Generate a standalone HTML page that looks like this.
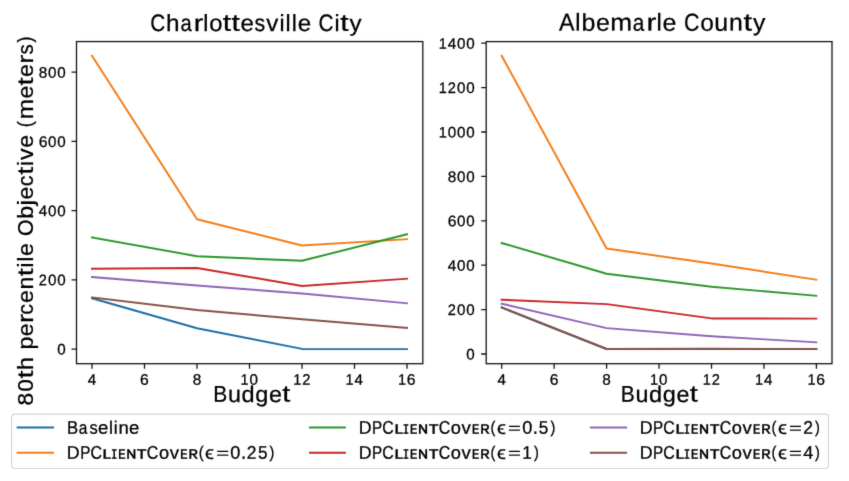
<!DOCTYPE html>
<html><head><meta charset="utf-8"><style>html,body{margin:0;padding:0;background:#fff;overflow:hidden}svg{display:block}</style></head>
<body><svg width="849" height="481" viewBox="0 0 849 481">
<defs><filter id="bl" x="0" y="0" width="849" height="481" filterUnits="userSpaceOnUse" color-interpolation-filters="sRGB"><feConvolveMatrix order="3" kernelMatrix="0.01134 0.08382 0.01134 0.08382 0.61935 0.08382 0.01134 0.08382 0.01134" preserveAlpha="true" edgeMode="duplicate"/></filter></defs>
<rect width="849" height="481" fill="#fff"/>
<g filter="url(#bl)">
<rect width="849" height="481" fill="#fff"/>
<polyline points="92,298.3 197,328.3 302,348.9 407,349.1" fill="none" stroke="#1d6ea8" stroke-width="1.95" stroke-linecap="square" stroke-linejoin="round"/>
<polyline points="92,55.9 197,219.2 302,245.5 407,239.2" fill="none" stroke="#f47d18" stroke-width="1.95" stroke-linecap="square" stroke-linejoin="round"/>
<polyline points="92,237.5 197,256.2 302,260.8 407,234.2" fill="none" stroke="#2a982a" stroke-width="1.95" stroke-linecap="square" stroke-linejoin="round"/>
<polyline points="92,268.7 197,268 302,286 407,278.7" fill="none" stroke="#c8262a" stroke-width="1.95" stroke-linecap="square" stroke-linejoin="round"/>
<polyline points="92,277 197,285.5 302,293.5 407,303.3" fill="none" stroke="#8f63b8" stroke-width="1.95" stroke-linecap="square" stroke-linejoin="round"/>
<polyline points="92,297.5 197,310 302,319.2 407,328" fill="none" stroke="#86524a" stroke-width="1.95" stroke-linecap="square" stroke-linejoin="round"/>
<polyline points="501.7,307.5 606.6,349 711.5,349 816.3,349" fill="none" stroke="#1d6ea8" stroke-width="1.95" stroke-linecap="square" stroke-linejoin="round"/>
<polyline points="501.7,55.8 606.6,248.5 711.5,263.5 816.3,279.75" fill="none" stroke="#f47d18" stroke-width="1.95" stroke-linecap="square" stroke-linejoin="round"/>
<polyline points="501.7,243 606.6,273.75 711.5,286.8 816.3,295.8" fill="none" stroke="#2a982a" stroke-width="1.95" stroke-linecap="square" stroke-linejoin="round"/>
<polyline points="501.7,299.7 606.6,304.1 711.5,318.4 816.3,318.6" fill="none" stroke="#c8262a" stroke-width="1.95" stroke-linecap="square" stroke-linejoin="round"/>
<polyline points="501.7,303.7 606.6,328.1 711.5,336.3 816.3,342.3" fill="none" stroke="#8f63b8" stroke-width="1.95" stroke-linecap="square" stroke-linejoin="round"/>
<polyline points="501.7,307.5 606.6,349 711.5,348.8 816.3,349" fill="none" stroke="#86524a" stroke-width="1.95" stroke-linecap="square" stroke-linejoin="round"/>
<rect x="76.5" y="41.55" width="346.3" height="322.15" fill="none" stroke="#151515" stroke-width="1.3"/>
<rect x="486.2" y="41.6" width="345.8" height="322.1" fill="none" stroke="#151515" stroke-width="1.3"/>
<path d="M92 363.7v5 M144.5 363.7v5 M197 363.7v5 M249.5 363.7v5 M302 363.7v5 M354.5 363.7v5 M407 363.7v5 M501.7 363.7v5 M554.15 363.7v5 M606.6 363.7v5 M659.05 363.7v5 M711.5 363.7v5 M763.95 363.7v5 M816.4 363.7v5 M76.5 349.07h-5 M76.5 279.85h-5 M76.5 210.63h-5 M76.5 141.41h-5 M76.5 72.19h-5 M486.2 354h-5 M486.2 309.6h-5 M486.2 265.2h-5 M486.2 220.8h-5 M486.2 176.4h-5 M486.2 132h-5 M486.2 87.6h-5 M486.2 43.2h-5" stroke="#151515" stroke-width="1.3" fill="none"/>
<rect x="11.6" y="414.1" width="816.9" height="54.4" rx="3.5" ry="3.5" fill="#fff" stroke="#d4d4d4" stroke-width="1.1"/>
<path d="M17.6 427.4H53" stroke="#1d6ea8" stroke-width="1.95" stroke-linecap="square"/>
<path d="M17.6 452.7H53" stroke="#f47d18" stroke-width="1.95" stroke-linecap="square"/>
<path d="M310 427.4H344.9" stroke="#2a982a" stroke-width="1.95" stroke-linecap="square"/>
<path d="M310 452.7H344.9" stroke="#c8262a" stroke-width="1.95" stroke-linecap="square"/>
<path d="M591 427.4H626.1" stroke="#8f63b8" stroke-width="1.95" stroke-linecap="square"/>
<path d="M591 452.7H626.1" stroke="#86524a" stroke-width="1.95" stroke-linecap="square"/>
<g font-family='"Liberation Sans", sans-serif' fill="#000" stroke="#000" stroke-width="0.25">
<text transform="matrix(1.054 0.002 -0.002 1.06 87.827 384.7)" font-size="14.4">4</text>
<text transform="matrix(1.091 0.002 -0.002 1.068 140.078 384.754)" font-size="14.4">6</text>
<text transform="matrix(1.066 0.002 -0.002 1.068 192.733 384.754)" font-size="14.4">8</text>
<text transform="matrix(1.007 0.002 -0.002 1.06 240.503 384.7)" font-size="14.4">1</text>
<text transform="matrix(1.054 0.002 -0.002 1.068 249.543 384.754)" font-size="14.4">0</text>
<text transform="matrix(1.007 0.002 -0.002 1.06 293.246 384.7)" font-size="14.4">1</text>
<text transform="matrix(1.016 0.002 -0.002 1.063 302.249 384.7)" font-size="14.4">2</text>
<text transform="matrix(1.007 0.002 -0.002 1.06 345.429 384.7)" font-size="14.4">1</text>
<text transform="matrix(1.054 0.002 -0.002 1.06 354.468 384.7)" font-size="14.4">4</text>
<text transform="matrix(1.007 0.002 -0.002 1.06 397.978 384.7)" font-size="14.4">1</text>
<text transform="matrix(1.091 0.002 -0.002 1.068 406.87 384.754)" font-size="14.4">6</text>
<text transform="matrix(1.054 0.002 -0.002 1.06 497.527 384.7)" font-size="14.4">4</text>
<text transform="matrix(1.091 0.002 -0.002 1.068 549.728 384.754)" font-size="14.4">6</text>
<text transform="matrix(1.066 0.002 -0.002 1.068 602.333 384.754)" font-size="14.4">8</text>
<text transform="matrix(1.007 0.002 -0.002 1.06 650.053 384.7)" font-size="14.4">1</text>
<text transform="matrix(1.054 0.002 -0.002 1.068 659.093 384.754)" font-size="14.4">0</text>
<text transform="matrix(1.007 0.002 -0.002 1.06 702.746 384.7)" font-size="14.4">1</text>
<text transform="matrix(1.016 0.002 -0.002 1.063 711.749 384.7)" font-size="14.4">2</text>
<text transform="matrix(1.007 0.002 -0.002 1.06 754.879 384.7)" font-size="14.4">1</text>
<text transform="matrix(1.054 0.002 -0.002 1.06 763.918 384.7)" font-size="14.4">4</text>
<text transform="matrix(1.007 0.002 -0.002 1.06 807.378 384.7)" font-size="14.4">1</text>
<text transform="matrix(1.091 0.002 -0.002 1.068 816.27 384.754)" font-size="14.4">6</text>
<text transform="matrix(1.054 0.002 -0.002 1.068 57.151 354.574)" font-size="14.4">0</text>
<text transform="matrix(1.016 0.002 -0.002 1.063 38.79 285.3)" font-size="14.4">2</text>
<text transform="matrix(1.054 0.002 -0.002 1.068 47.989 285.354)" font-size="14.4">0</text>
<text transform="matrix(1.054 0.002 -0.002 1.068 57.151 285.354)" font-size="14.4">0</text>
<text transform="matrix(1.054 0.002 -0.002 1.06 38.826 216.08)" font-size="14.4">4</text>
<text transform="matrix(1.054 0.002 -0.002 1.068 47.989 216.134)" font-size="14.4">0</text>
<text transform="matrix(1.054 0.002 -0.002 1.068 57.151 216.134)" font-size="14.4">0</text>
<text transform="matrix(1.091 0.002 -0.002 1.068 38.679 146.914)" font-size="14.4">6</text>
<text transform="matrix(1.054 0.002 -0.002 1.068 47.989 146.914)" font-size="14.4">0</text>
<text transform="matrix(1.054 0.002 -0.002 1.068 57.151 146.914)" font-size="14.4">0</text>
<text transform="matrix(1.066 0.002 -0.002 1.068 38.782 77.694)" font-size="14.4">8</text>
<text transform="matrix(1.054 0.002 -0.002 1.068 47.989 77.694)" font-size="14.4">0</text>
<text transform="matrix(1.054 0.002 -0.002 1.068 57.151 77.694)" font-size="14.4">0</text>
<text transform="matrix(1.054 0.002 -0.002 1.068 466.151 359.504)" font-size="14.4">0</text>
<text transform="matrix(1.016 0.002 -0.002 1.063 447.79 315.05)" font-size="14.4">2</text>
<text transform="matrix(1.054 0.002 -0.002 1.068 456.989 315.104)" font-size="14.4">0</text>
<text transform="matrix(1.054 0.002 -0.002 1.068 466.151 315.104)" font-size="14.4">0</text>
<text transform="matrix(1.054 0.002 -0.002 1.06 447.826 270.65)" font-size="14.4">4</text>
<text transform="matrix(1.054 0.002 -0.002 1.068 456.989 270.704)" font-size="14.4">0</text>
<text transform="matrix(1.054 0.002 -0.002 1.068 466.151 270.704)" font-size="14.4">0</text>
<text transform="matrix(1.091 0.002 -0.002 1.068 447.679 226.304)" font-size="14.4">6</text>
<text transform="matrix(1.054 0.002 -0.002 1.068 456.989 226.304)" font-size="14.4">0</text>
<text transform="matrix(1.054 0.002 -0.002 1.068 466.151 226.304)" font-size="14.4">0</text>
<text transform="matrix(1.066 0.002 -0.002 1.068 447.782 181.904)" font-size="14.4">8</text>
<text transform="matrix(1.054 0.002 -0.002 1.068 456.989 181.904)" font-size="14.4">0</text>
<text transform="matrix(1.054 0.002 -0.002 1.068 466.151 181.904)" font-size="14.4">0</text>
<text transform="matrix(1.007 0.002 -0.002 1.06 438.787 137.45)" font-size="14.4">1</text>
<text transform="matrix(1.054 0.002 -0.002 1.068 447.827 137.504)" font-size="14.4">0</text>
<text transform="matrix(1.054 0.002 -0.002 1.068 456.989 137.504)" font-size="14.4">0</text>
<text transform="matrix(1.054 0.002 -0.002 1.068 466.151 137.504)" font-size="14.4">0</text>
<text transform="matrix(1.007 0.002 -0.002 1.06 438.787 93.05)" font-size="14.4">1</text>
<text transform="matrix(1.016 0.002 -0.002 1.063 447.79 93.05)" font-size="14.4">2</text>
<text transform="matrix(1.054 0.002 -0.002 1.068 456.989 93.104)" font-size="14.4">0</text>
<text transform="matrix(1.054 0.002 -0.002 1.068 466.151 93.104)" font-size="14.4">0</text>
<text transform="matrix(1.007 0.002 -0.002 1.06 438.787 48.65)" font-size="14.4">1</text>
<text transform="matrix(1.054 0.002 -0.002 1.06 447.826 48.65)" font-size="14.4">4</text>
<text transform="matrix(1.054 0.002 -0.002 1.068 456.989 48.704)" font-size="14.4">0</text>
<text transform="matrix(1.054 0.002 -0.002 1.068 466.151 48.704)" font-size="14.4">0</text>
<text transform="matrix(0.928 0.002 -0.002 1.068 150.346 31.083)" font-size="22.35">C</text>
<text transform="matrix(1.086 0.002 -0.002 1.049 166.098 31)" font-size="22.35">h</text>
<text transform="matrix(0.899 0.002 -0.002 1.048 180.404 31.088)" font-size="22.35">a</text>
<text transform="matrix(1.281 0.002 -0.002 1.041 193.74 31)" font-size="22.35">r</text>
<text transform="matrix(1.022 0.002 -0.002 1.049 203.367 31)" font-size="22.35">l</text>
<text transform="matrix(1.063 0.002 -0.002 1.048 209.246 31.088)" font-size="22.35">o</text>
<text transform="matrix(1.337 0.002 -0.002 1.073 222.832 30.813)" font-size="22.35">t</text>
<text transform="matrix(1.337 0.002 -0.002 1.073 231.596 30.813)" font-size="22.35">t</text>
<text transform="matrix(1.08 0.002 -0.002 1.048 240.418 31.088)" font-size="22.35">e</text>
<text transform="matrix(0.959 0.002 -0.002 1.051 254.576 31.087)" font-size="22.35">s</text>
<text transform="matrix(1.079 0.002 -0.002 1.035 266.189 31)" font-size="22.35">v</text>
<text transform="matrix(1.022 0.002 -0.002 1.049 279.41 31)" font-size="22.35">i</text>
<text transform="matrix(1.022 0.002 -0.002 1.049 285.608 31)" font-size="22.35">l</text>
<text transform="matrix(1.022 0.002 -0.002 1.049 291.818 31)" font-size="22.35">l</text>
<text transform="matrix(1.08 0.002 -0.002 1.048 297.668 31.088)" font-size="22.35">e</text>
<text transform="matrix(0.928 0.002 -0.002 1.068 318.517 31.083)" font-size="22.35">C</text>
<text transform="matrix(1.022 0.002 -0.002 1.049 334.499 31)" font-size="22.35">i</text>
<text transform="matrix(1.337 0.002 -0.002 1.073 340.279 30.813)" font-size="22.35">t</text>
<text transform="matrix(1.074 0.002 -0.002 1.026 349.501 30.891)" font-size="22.35">y</text>
<text transform="matrix(1.007 0.002 -0.002 1.06 559.005 30.6)" font-size="23.05">A</text>
<text transform="matrix(1.022 0.002 -0.002 1.049 575.223 30.6)" font-size="23.05">l</text>
<text transform="matrix(1.088 0.002 -0.002 1.054 581.519 30.689)" font-size="23.05">b</text>
<text transform="matrix(1.08 0.002 -0.002 1.048 595.888 30.69)" font-size="23.05">e</text>
<text transform="matrix(1.139 0.002 -0.002 1.041 610.204 30.6)" font-size="23.05">m</text>
<text transform="matrix(0.899 0.002 -0.002 1.048 632.812 30.69)" font-size="23.05">a</text>
<text transform="matrix(1.281 0.002 -0.002 1.041 646.565 30.6)" font-size="23.05">r</text>
<text transform="matrix(1.022 0.002 -0.002 1.049 656.494 30.6)" font-size="23.05">l</text>
<text transform="matrix(1.08 0.002 -0.002 1.048 662.528 30.69)" font-size="23.05">e</text>
<text transform="matrix(0.928 0.002 -0.002 1.068 684.029 30.686)" font-size="23.05">C</text>
<text transform="matrix(1.063 0.002 -0.002 1.048 700.159 30.69)" font-size="23.05">o</text>
<text transform="matrix(1.078 0.002 -0.002 1.067 714.363 30.686)" font-size="23.05">u</text>
<text transform="matrix(1.078 0.002 -0.002 1.041 729.07 30.6)" font-size="23.05">n</text>
<text transform="matrix(1.337 0.002 -0.002 1.073 743.389 30.407)" font-size="23.05">t</text>
<text transform="matrix(1.074 0.002 -0.002 1.026 752.9 30.487)" font-size="23.05">y</text>
<text transform="matrix(0.972 0.002 -0.002 1.06 213.279 401.8)" font-size="21.6">B</text>
<text transform="matrix(1.078 0.002 -0.002 1.067 228.021 401.881)" font-size="21.6">u</text>
<text transform="matrix(1.087 0.002 -0.002 1.054 241.594 401.884)" font-size="21.6">d</text>
<text transform="matrix(1.087 0.002 -0.002 1.032 255.305 401.666)" font-size="21.6">g</text>
<text transform="matrix(1.08 0.002 -0.002 1.048 269.011 401.885)" font-size="21.6">e</text>
<text transform="matrix(1.337 0.002 -0.002 1.073 282.242 401.619)" font-size="21.6">t</text>
<text transform="matrix(0.972 0.002 -0.002 1.06 620.679 401.8)" font-size="21.6">B</text>
<text transform="matrix(1.078 0.002 -0.002 1.067 635.421 401.881)" font-size="21.6">u</text>
<text transform="matrix(1.087 0.002 -0.002 1.054 648.994 401.884)" font-size="21.6">d</text>
<text transform="matrix(1.087 0.002 -0.002 1.032 662.705 401.666)" font-size="21.6">g</text>
<text transform="matrix(1.08 0.002 -0.002 1.048 676.411 401.885)" font-size="21.6">e</text>
<text transform="matrix(1.337 0.002 -0.002 1.073 689.642 401.619)" font-size="21.6">t</text>
<text transform="matrix(0 -1.066 1.068 0 33.28 405.491)" font-size="21.4">8</text>
<text transform="matrix(0 -1.054 1.068 0 33.28 391.808)" font-size="21.4">0</text>
<text transform="matrix(0 -1.337 1.073 0 33.021 378.58)" font-size="21.4">t</text>
<text transform="matrix(0 -1.086 1.049 0 33.2 369.998)" font-size="21.4">h</text>
<text transform="matrix(0 -1.088 1.031 0 33.074 349.523)" font-size="21.4">p</text>
<text transform="matrix(0 -1.08 1.048 0 33.284 336.183)" font-size="21.4">e</text>
<text transform="matrix(0 -1.281 1.041 0 33.2 323.093)" font-size="21.4">r</text>
<text transform="matrix(0 -1.003 1.048 0 33.284 314.63)" font-size="21.4">c</text>
<text transform="matrix(0 -1.08 1.048 0 33.284 302.934)" font-size="21.4">e</text>
<text transform="matrix(0 -1.078 1.041 0 33.2 289.556)" font-size="21.4">n</text>
<text transform="matrix(0 -1.337 1.073 0 33.021 276.262)" font-size="21.4">t</text>
<text transform="matrix(0 -1.022 1.049 0 33.2 267.46)" font-size="21.4">i</text>
<text transform="matrix(0 -1.022 1.049 0 33.2 261.525)" font-size="21.4">l</text>
<text transform="matrix(0 -1.08 1.048 0 33.284 255.923)" font-size="21.4">e</text>
<text transform="matrix(0 -0.989 1.068 0 33.28 235.954)" font-size="21.4">O</text>
<text transform="matrix(0 -1.088 1.054 0 33.283 218.866)" font-size="21.4">b</text>
<text transform="matrix(0 -1.128 1.038 0 33.041 205.523)" font-size="21.4">j</text>
<text transform="matrix(0 -1.08 1.048 0 33.284 199.581)" font-size="21.4">e</text>
<text transform="matrix(0 -1.003 1.048 0 33.284 186.345)" font-size="21.4">c</text>
<text transform="matrix(0 -1.337 1.073 0 33.021 174.706)" font-size="21.4">t</text>
<text transform="matrix(0 -1.022 1.049 0 33.2 165.904)" font-size="21.4">i</text>
<text transform="matrix(0 -1.079 1.035 0 33.2 159.953)" font-size="21.4">v</text>
<text transform="matrix(0 -1.08 1.048 0 33.284 147.648)" font-size="21.4">e</text>
<text transform="matrix(0 -0.845 0.956 0 31.786 127.161)" font-size="21.4">(</text>
<text transform="matrix(0 -1.139 1.041 0 33.2 119.205)" font-size="21.4">m</text>
<text transform="matrix(0 -1.08 1.048 0 33.284 98.485)" font-size="21.4">e</text>
<text transform="matrix(0 -1.337 1.073 0 33.021 85.376)" font-size="21.4">t</text>
<text transform="matrix(0 -1.08 1.048 0 33.284 76.928)" font-size="21.4">e</text>
<text transform="matrix(0 -1.281 1.041 0 33.2 63.838)" font-size="21.4">r</text>
<text transform="matrix(0 -0.959 1.051 0 33.283 54.574)" font-size="21.4">s</text>
<text transform="matrix(0 -0.845 0.956 0 31.786 42.406)" font-size="21.4">)</text>
<text transform="matrix(0.972 0.002 -0.002 1.06 66.929 433.8)" font-size="17.2">B</text>
<text transform="matrix(0.899 0.002 -0.002 1.048 78.788 433.868)" font-size="17.2">a</text>
<text transform="matrix(0.959 0.002 -0.002 1.051 89.425 433.867)" font-size="17.2">s</text>
<text transform="matrix(1.08 0.002 -0.002 1.048 98.073 433.868)" font-size="17.2">e</text>
<text transform="matrix(1.022 0.002 -0.002 1.049 108.931 433.8)" font-size="17.2">l</text>
<text transform="matrix(1.022 0.002 -0.002 1.049 113.718 433.8)" font-size="17.2">i</text>
<text transform="matrix(1.078 0.002 -0.002 1.041 118.383 433.8)" font-size="17.2">n</text>
<text transform="matrix(1.08 0.002 -0.002 1.048 129.113 433.868)" font-size="17.2">e</text>
<text transform="matrix(1.035 0.002 -0.002 1.06 66.84 458.8)" font-size="17.2">D</text>
<text transform="matrix(0.884 0.002 -0.002 1.06 80.296 458.8)" font-size="17.2">P</text>
<text transform="matrix(0.928 0.002 -0.002 1.068 90.383 458.864)" font-size="17.2">C</text>
<text transform="matrix(1.304 0.002 -0.002 1.035 102.332 458.8)" font-size="17.2">ʟ</text>
<text transform="matrix(0.889 0.002 -0.002 1.035 111.422 458.8)" font-size="17.2">ɪ</text>
<text transform="matrix(0.91 0.002 -0.002 1.035 117.877 458.8)" font-size="17.2">ᴇ</text>
<text transform="matrix(1.095 0.002 -0.002 1.035 125.985 458.8)" font-size="17.2">ɴ</text>
<text transform="matrix(1.236 0.002 -0.002 1.035 136.829 458.8)" font-size="17.2">ᴛ</text>
<text transform="matrix(0.928 0.002 -0.002 1.068 146.863 458.864)" font-size="17.2">C</text>
<text transform="matrix(1.063 0.002 -0.002 1.048 158.899 458.868)" font-size="17.2">ᴏ</text>
<text transform="matrix(1.079 0.002 -0.002 1.035 169.69 458.8)" font-size="17.2">ᴠ</text>
<text transform="matrix(0.91 0.002 -0.002 1.035 179.95 458.8)" font-size="17.2">ᴇ</text>
<text transform="matrix(1.063 0.002 -0.002 1.035 188.154 458.8)" font-size="17.2">ʀ</text>
<text transform="matrix(0.845 0.002 -0.002 0.956 198.817 457.663)" font-size="17.2">(</text>
<text transform="matrix(1.169 0.002 -0.002 1.087 205.114 459.044)" font-size="17.2">ϵ</text>
<text transform="matrix(1.288 0.002 -0.002 0.876 216.273 458.374)" font-size="17.2">=</text>
<text transform="matrix(1.054 0.002 -0.002 1.068 230.37 458.864)" font-size="17.2">0</text>
<text transform="matrix(1.082 0.002 -0.002 1.16 241.028 458.8)" font-size="17.2">.</text>
<text transform="matrix(1.016 0.002 -0.002 1.063 246.736 458.8)" font-size="17.2">2</text>
<text transform="matrix(0.995 0.002 -0.002 1.065 257.94 458.865)" font-size="17.2">5</text>
<text transform="matrix(0.845 0.002 -0.002 0.956 269.534 457.663)" font-size="17.2">)</text>
<text transform="matrix(1.035 0.002 -0.002 1.06 358.64 433.8)" font-size="17.2">D</text>
<text transform="matrix(0.884 0.002 -0.002 1.06 372.096 433.8)" font-size="17.2">P</text>
<text transform="matrix(0.928 0.002 -0.002 1.068 382.183 433.864)" font-size="17.2">C</text>
<text transform="matrix(1.304 0.002 -0.002 1.035 394.132 433.8)" font-size="17.2">ʟ</text>
<text transform="matrix(0.889 0.002 -0.002 1.035 403.222 433.8)" font-size="17.2">ɪ</text>
<text transform="matrix(0.91 0.002 -0.002 1.035 409.677 433.8)" font-size="17.2">ᴇ</text>
<text transform="matrix(1.095 0.002 -0.002 1.035 417.785 433.8)" font-size="17.2">ɴ</text>
<text transform="matrix(1.236 0.002 -0.002 1.035 428.629 433.8)" font-size="17.2">ᴛ</text>
<text transform="matrix(0.928 0.002 -0.002 1.068 438.663 433.864)" font-size="17.2">C</text>
<text transform="matrix(1.063 0.002 -0.002 1.048 450.699 433.868)" font-size="17.2">ᴏ</text>
<text transform="matrix(1.079 0.002 -0.002 1.035 461.49 433.8)" font-size="17.2">ᴠ</text>
<text transform="matrix(0.91 0.002 -0.002 1.035 471.75 433.8)" font-size="17.2">ᴇ</text>
<text transform="matrix(1.063 0.002 -0.002 1.035 479.954 433.8)" font-size="17.2">ʀ</text>
<text transform="matrix(0.845 0.002 -0.002 0.956 490.617 432.663)" font-size="17.2">(</text>
<text transform="matrix(1.169 0.002 -0.002 1.087 496.914 434.044)" font-size="17.2">ϵ</text>
<text transform="matrix(1.288 0.002 -0.002 0.876 508.073 433.374)" font-size="17.2">=</text>
<text transform="matrix(1.054 0.002 -0.002 1.068 522.17 433.864)" font-size="17.2">0</text>
<text transform="matrix(1.082 0.002 -0.002 1.16 532.828 433.8)" font-size="17.2">.</text>
<text transform="matrix(0.995 0.002 -0.002 1.065 538.797 433.865)" font-size="17.2">5</text>
<text transform="matrix(0.845 0.002 -0.002 0.956 550.391 432.663)" font-size="17.2">)</text>
<text transform="matrix(1.035 0.002 -0.002 1.06 358.64 458.8)" font-size="17.2">D</text>
<text transform="matrix(0.884 0.002 -0.002 1.06 372.096 458.8)" font-size="17.2">P</text>
<text transform="matrix(0.928 0.002 -0.002 1.068 382.183 458.864)" font-size="17.2">C</text>
<text transform="matrix(1.304 0.002 -0.002 1.035 394.132 458.8)" font-size="17.2">ʟ</text>
<text transform="matrix(0.889 0.002 -0.002 1.035 403.222 458.8)" font-size="17.2">ɪ</text>
<text transform="matrix(0.91 0.002 -0.002 1.035 409.677 458.8)" font-size="17.2">ᴇ</text>
<text transform="matrix(1.095 0.002 -0.002 1.035 417.785 458.8)" font-size="17.2">ɴ</text>
<text transform="matrix(1.236 0.002 -0.002 1.035 428.629 458.8)" font-size="17.2">ᴛ</text>
<text transform="matrix(0.928 0.002 -0.002 1.068 438.663 458.864)" font-size="17.2">C</text>
<text transform="matrix(1.063 0.002 -0.002 1.048 450.699 458.868)" font-size="17.2">ᴏ</text>
<text transform="matrix(1.079 0.002 -0.002 1.035 461.49 458.8)" font-size="17.2">ᴠ</text>
<text transform="matrix(0.91 0.002 -0.002 1.035 471.75 458.8)" font-size="17.2">ᴇ</text>
<text transform="matrix(1.063 0.002 -0.002 1.035 479.954 458.8)" font-size="17.2">ʀ</text>
<text transform="matrix(0.845 0.002 -0.002 0.956 490.617 457.663)" font-size="17.2">(</text>
<text transform="matrix(1.169 0.002 -0.002 1.087 496.914 459.044)" font-size="17.2">ϵ</text>
<text transform="matrix(1.288 0.002 -0.002 0.876 508.073 458.374)" font-size="17.2">=</text>
<text transform="matrix(1.007 0.002 -0.002 1.06 522.315 458.8)" font-size="17.2">1</text>
<text transform="matrix(0.845 0.002 -0.002 0.956 533.98 457.663)" font-size="17.2">)</text>
<text transform="matrix(1.035 0.002 -0.002 1.06 639.64 433.8)" font-size="17.2">D</text>
<text transform="matrix(0.884 0.002 -0.002 1.06 653.096 433.8)" font-size="17.2">P</text>
<text transform="matrix(0.928 0.002 -0.002 1.068 663.183 433.864)" font-size="17.2">C</text>
<text transform="matrix(1.304 0.002 -0.002 1.035 675.132 433.8)" font-size="17.2">ʟ</text>
<text transform="matrix(0.889 0.002 -0.002 1.035 684.222 433.8)" font-size="17.2">ɪ</text>
<text transform="matrix(0.91 0.002 -0.002 1.035 690.677 433.8)" font-size="17.2">ᴇ</text>
<text transform="matrix(1.095 0.002 -0.002 1.035 698.785 433.8)" font-size="17.2">ɴ</text>
<text transform="matrix(1.236 0.002 -0.002 1.035 709.629 433.8)" font-size="17.2">ᴛ</text>
<text transform="matrix(0.928 0.002 -0.002 1.068 719.663 433.864)" font-size="17.2">C</text>
<text transform="matrix(1.063 0.002 -0.002 1.048 731.699 433.868)" font-size="17.2">ᴏ</text>
<text transform="matrix(1.079 0.002 -0.002 1.035 742.49 433.8)" font-size="17.2">ᴠ</text>
<text transform="matrix(0.91 0.002 -0.002 1.035 752.75 433.8)" font-size="17.2">ᴇ</text>
<text transform="matrix(1.063 0.002 -0.002 1.035 760.954 433.8)" font-size="17.2">ʀ</text>
<text transform="matrix(0.845 0.002 -0.002 0.956 771.617 432.663)" font-size="17.2">(</text>
<text transform="matrix(1.169 0.002 -0.002 1.087 777.914 434.044)" font-size="17.2">ϵ</text>
<text transform="matrix(1.288 0.002 -0.002 0.876 789.073 433.374)" font-size="17.2">=</text>
<text transform="matrix(1.016 0.002 -0.002 1.063 803.126 433.8)" font-size="17.2">2</text>
<text transform="matrix(0.845 0.002 -0.002 0.956 814.98 432.663)" font-size="17.2">)</text>
<text transform="matrix(1.035 0.002 -0.002 1.06 639.64 458.8)" font-size="17.2">D</text>
<text transform="matrix(0.884 0.002 -0.002 1.06 653.096 458.8)" font-size="17.2">P</text>
<text transform="matrix(0.928 0.002 -0.002 1.068 663.183 458.864)" font-size="17.2">C</text>
<text transform="matrix(1.304 0.002 -0.002 1.035 675.132 458.8)" font-size="17.2">ʟ</text>
<text transform="matrix(0.889 0.002 -0.002 1.035 684.222 458.8)" font-size="17.2">ɪ</text>
<text transform="matrix(0.91 0.002 -0.002 1.035 690.677 458.8)" font-size="17.2">ᴇ</text>
<text transform="matrix(1.095 0.002 -0.002 1.035 698.785 458.8)" font-size="17.2">ɴ</text>
<text transform="matrix(1.236 0.002 -0.002 1.035 709.629 458.8)" font-size="17.2">ᴛ</text>
<text transform="matrix(0.928 0.002 -0.002 1.068 719.663 458.864)" font-size="17.2">C</text>
<text transform="matrix(1.063 0.002 -0.002 1.048 731.699 458.868)" font-size="17.2">ᴏ</text>
<text transform="matrix(1.079 0.002 -0.002 1.035 742.49 458.8)" font-size="17.2">ᴠ</text>
<text transform="matrix(0.91 0.002 -0.002 1.035 752.75 458.8)" font-size="17.2">ᴇ</text>
<text transform="matrix(1.063 0.002 -0.002 1.035 760.954 458.8)" font-size="17.2">ʀ</text>
<text transform="matrix(0.845 0.002 -0.002 0.956 771.617 457.663)" font-size="17.2">(</text>
<text transform="matrix(1.169 0.002 -0.002 1.087 777.914 459.044)" font-size="17.2">ϵ</text>
<text transform="matrix(1.288 0.002 -0.002 0.876 789.073 458.374)" font-size="17.2">=</text>
<text transform="matrix(1.054 0.002 -0.002 1.06 803.168 458.8)" font-size="17.2">4</text>
<text transform="matrix(0.845 0.002 -0.002 0.956 814.98 457.663)" font-size="17.2">)</text>
</g>
</g>
</svg></body></html>
